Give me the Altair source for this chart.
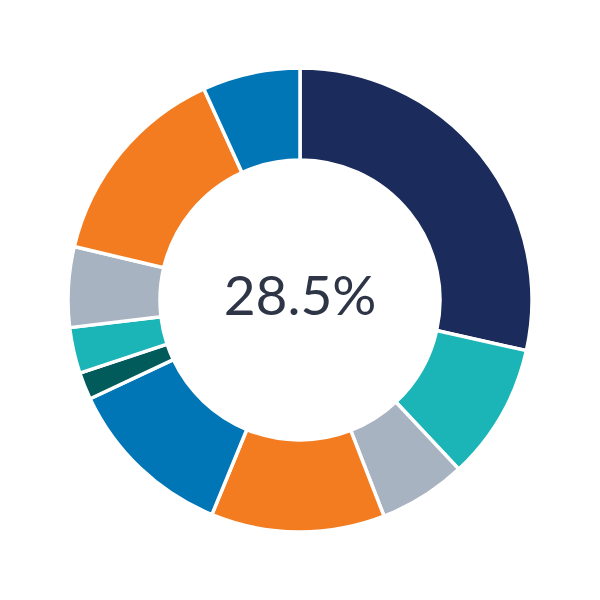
import altair as alt
import pandas as pd

categories = ["A", "B", "C", "D", "E", "F", "G", "H", "I", "J"]
values = [28.5, 9.5, 6.1, 12.1, 11.8, 1.9, 3.2, 5.6, 14.5, 6.8]
colors = ["#1b2b5b", "#1bb4b7", "#a8b3c1", "#f37c20", "#0076b6",
          "#015b5b", "#1bb4b7", "#a8b3c1", "#f37c20", "#0076b6"]
center_label = "28.5%"

df = pd.DataFrame({"cat": categories, "value": values,
                   "order": list(range(len(categories)))})

arcs = alt.Chart(df).mark_arc(innerRadius=140, outerRadius=232,
                              stroke="white", strokeWidth=3.5).encode(
    theta=alt.Theta("value:Q", stack=True),
    order=alt.Order("order:Q"),
    color=alt.Color("cat:N", scale=alt.Scale(domain=categories, range=colors),
                    legend=None),
)

text = alt.Chart(pd.DataFrame({"t": [center_label]})).mark_text(
    font="Lato", fontSize=55, color="#2d3546", baseline="middle", align="center"
).encode(
    text="t:N",
    x=alt.value(292),
    y=alt.value(290),
)

chart = alt.layer(arcs, text).properties(
    width=584, height=584, padding=0,
    autosize=alt.AutoSizeParams(type="fit", contains="padding"),
).configure_view(stroke=None)

chart.save("out.html", embed_options={"renderer": "svg", "actions": False})
